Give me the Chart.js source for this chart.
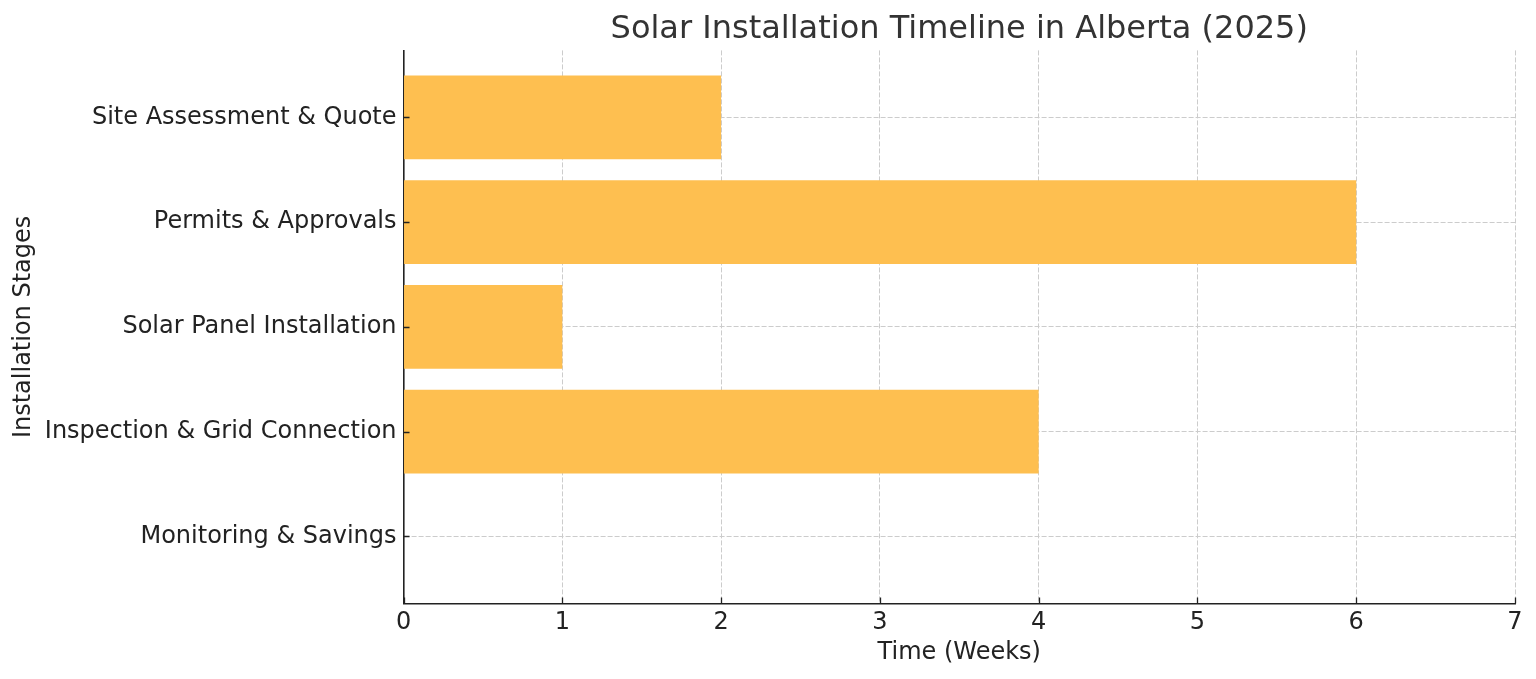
<!DOCTYPE html>
<html>
<head>
<meta charset="utf-8">
<script src="https://cdn.jsdelivr.net/npm/chart.js@4"></script>
<style>
  html, body { margin: 0; padding: 0; background: #fff; }
  #wrap { width: 1536px; height: 679px; }
</style>
</head>
<body>
<div id="wrap"><canvas id="chart"></canvas></div>
<script>
// Data
const stages = [
  'Site Assessment & Quote',
  'Permits & Approvals',
  'Solar Panel Installation',
  'Inspection & Grid Connection',
  'Monitoring & Savings'
];
const weeks = [2, 6, 1, 4, 0];
const xTicks = [0, 1, 2, 3, 4, 5, 6, 7];

const FONT = "'DejaVu Sans', sans-serif";
const axisColor = '#222';
const gridColor = '#cccccc';

// matplotlib style ticks pointing into the plot
const innerTicks = {
  id: 'innerTicks',
  afterDatasetsDraw(chart) {
    const { ctx, chartArea, scales } = chart;
    ctx.save();
    ctx.strokeStyle = axisColor;
    ctx.lineWidth = 1.3;
    ctx.beginPath();
    xTicks.forEach(v => {
      const px = Math.round(scales.x.getPixelForValue(v)) + 0.5;
      ctx.moveTo(px, chartArea.bottom);
      ctx.lineTo(px, chartArea.bottom - 6);
    });
    stages.forEach((s, i) => {
      const py = Math.round(scales.y.getPixelForValue(i)) + 0.5;
      ctx.moveTo(chartArea.left, py);
      ctx.lineTo(chartArea.left + 6, py);
    });
    ctx.stroke();
    ctx.restore();
  }
};

const ctx = document.getElementById('chart').getContext('2d');
new Chart(ctx, {
  type: 'bar',
  data: {
    datasets: [{
      data: weeks.map((w, i) => ({ x: w, y: i })),
      backgroundColor: '#FEBF50',
      borderWidth: 0,
      barPercentage: 0.8,
      categoryPercentage: 1.0
    }]
  },
  options: {
    indexAxis: 'y',
    responsive: true,
    maintainAspectRatio: false,
    animation: false,
    layout: { padding: { top: 0, right: 21, bottom: 7, left: 9 } },
    plugins: {
      legend: { display: false },
      tooltip: { enabled: false },
      title: {
        display: true,
        fullSize: false,
        text: 'Solar Installation Timeline in Alberta (2025)',
        color: '#333',
        font: { family: FONT, size: 32, weight: 'normal' },
        padding: { top: 10, bottom: 2 }
      }
    },
    scales: {
      x: {
        type: 'linear',
        min: 0,
        max: 7,
        afterBuildTicks: scale => { scale.ticks = xTicks.map(v => ({ value: v })); },
        ticks: {
          color: axisColor,
          font: { family: FONT, size: 24 },
          padding: 5
        },
        grid: {
          color: gridColor,
          lineWidth: 1,
          drawTicks: false
        },
        border: { display: true, color: axisColor, width: 1.6, dash: [5, 2] },
        title: {
          display: true,
          text: 'Time (Weeks)',
          color: axisColor,
          font: { family: FONT, size: 24 },
          padding: { top: -4, bottom: 5 }
        }
      },
      y: {
        type: 'linear',
        reverse: true,
        offset: false,
        min: -0.64,
        max: stages.length - 1 + 0.64,
        afterBuildTicks: scale => { scale.ticks = stages.map((s, i) => ({ value: i })); },
        ticks: {
          color: axisColor,
          font: { family: FONT, size: 24 },
          padding: 7,
          callback: v => stages[v]
        },
        grid: {
          color: gridColor,
          lineWidth: 1,
          offset: false,
          drawTicks: false
        },
        border: { display: true, color: axisColor, width: 1.6, dash: [5, 2] },
        title: {
          display: true,
          text: 'Installation Stages',
          color: axisColor,
          font: { family: FONT, size: 24 },
          padding: { top: 0, bottom: 0 }
        }
      }
    }
  },
  plugins: [innerTicks]
});
</script>
</body>
</html>
